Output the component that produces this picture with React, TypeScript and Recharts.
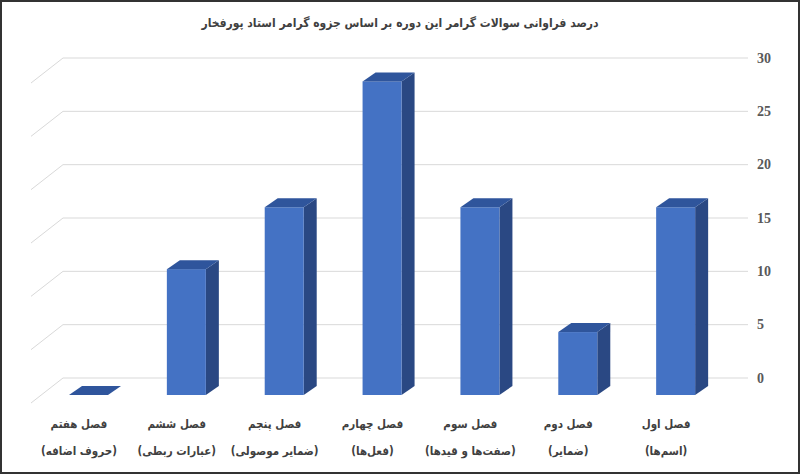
import { BarChart, Bar, XAxis, YAxis, CartesianGrid } from "recharts";

// data (right to left in the picture, first chapter on the right)
const chapters = ["فصل اول", "فصل دوم", "فصل سوم", "فصل چهارم", "فصل پنجم", "فصل ششم", "فصل هفتم"];
const topics = [
  "(اسم\u200cها)",
  "(ضمایر)",
  "(صفت\u200cها و قیدها)",
  "(فعل\u200cها)",
  "(ضمایر موصولی)",
  "(عبارات ربطی)",
  "(حروف اضافه)",
];
const percents = [17.6, 5.9, 17.6, 29.4, 17.6, 11.8, 0];
const yTicks = [0, 5, 10, 15, 20, 25, 30];

const chartData = chapters.map((name, i) => ({ name, topic: topics[i], value: percents[i] }));

const TITLE = "درصد فراوانی سوالات گرامر این دوره بر اساس جزوه گرامر استاد پورفخار";

// 3d look: front plane sits in front of the back wall
const FRONT_DX = -23;
const FRONT_DY = 17;
const DEPTH_DX = 13;
const DEPTH_DY = -9;
const ARABIC_FONT = "'DejaVu Sans Condensed', 'DejaVu Sans', sans-serif";

function Bar3D(props: any) {
  const { x, y, width, height } = props;
  if (x == null || y == null) return null;
  const fx = x + FRONT_DX;
  const fy = y + FRONT_DY;
  const h = Math.max(0, height);
  const top = `${fx},${fy} ${fx + width},${fy} ${fx + width + DEPTH_DX},${fy + DEPTH_DY} ${fx + DEPTH_DX},${fy + DEPTH_DY}`;
  const side = `${fx + width},${fy} ${fx + width + DEPTH_DX},${fy + DEPTH_DY} ${fx + width + DEPTH_DX},${fy + h + DEPTH_DY} ${fx + width},${fy + h}`;
  return (
    <g>
      {h > 0 && <polygon points={side} fill="#2a4883" />}
      {h > 0 && <rect x={fx} y={fy} width={width} height={h} fill="#4472c4" />}
      <polygon points={top} fill="#2f559c" />
    </g>
  );
}

function GridLine(props: any) {
  const { x1, y1, x2, y2 } = props;
  return (
    <g key={`grid-${y1}`}>
      <line x1={x1} y1={y1} x2={x2} y2={y2} stroke="#d9d9d9" strokeWidth={1} />
      <line x1={x1} y1={y1} x2={x1 - 32} y2={y1 + 25} stroke="#d9d9d9" strokeWidth={1} />
    </g>
  );
}

function CategoryTick(props: any) {
  const { x, y, payload } = props;
  const i = payload.index;
  return (
    <g>
      <text
        x={x - 33}
        y={y + 42}
        textAnchor="middle"
        direction="rtl"
        fontFamily={ARABIC_FONT}
        fontWeight="bold"
        fontSize={11.5}
        fill="#404040"
      >
        {chapters[i]}
      </text>
      <text
        x={x - 33}
        y={y + 69}
        textAnchor="middle"
        direction="rtl"
        fontFamily={ARABIC_FONT}
        fontWeight="bold"
        fontSize={11.5}
        fill="#404040"
      >
        {topics[i]}
      </text>
    </g>
  );
}

function ValueTick(props: any) {
  const { x, y, payload } = props;
  return (
    <text
      x={x + 3}
      y={y}
      textAnchor="start"
      dominantBaseline="central"
      fontFamily="'Liberation Serif', serif"
      fontWeight="bold"
      fontSize={14}
      fill="#595959"
    >
      {payload.value}
    </text>
  );
}

export default function App() {
  return (
    <div style={{ position: "relative", width: 800, height: 474, background: "#fff" }}>
      <style>{"body{margin:0}"}</style>
      <BarChart
        width={800}
        height={474}
        data={chartData}
        margin={{ top: 58, right: 0, left: 63, bottom: 0 }}
        barSize={39}
      >
        <text
          x={400}
          y={27}
          textAnchor="middle"
          direction="rtl"
          fontFamily={ARABIC_FONT}
          fontWeight="bold"
          fontSize={12}
          fill="#404040"
        >
          {TITLE}
        </text>
        <CartesianGrid vertical={false} horizontal={(p: any) => <GridLine {...p} />} />
        <XAxis
          dataKey="name"
          reversed
          height={96}
          axisLine={false}
          tickLine={false}
          interval={0}
          tick={<CategoryTick />}
        />
        <YAxis
          orientation="right"
          domain={[0, 30]}
          ticks={yTicks}
          width={52}
          axisLine={false}
          tickLine={false}
          tickMargin={0}
          tick={<ValueTick />}
        />
        <Bar dataKey="value" isAnimationActive={false} shape={(p: any) => <Bar3D {...p} />} />
      </BarChart>
      <div
        style={{
          position: "absolute",
          inset: 0,
          border: "2px solid #333",
          pointerEvents: "none",
        }}
      />
    </div>
  );
}
